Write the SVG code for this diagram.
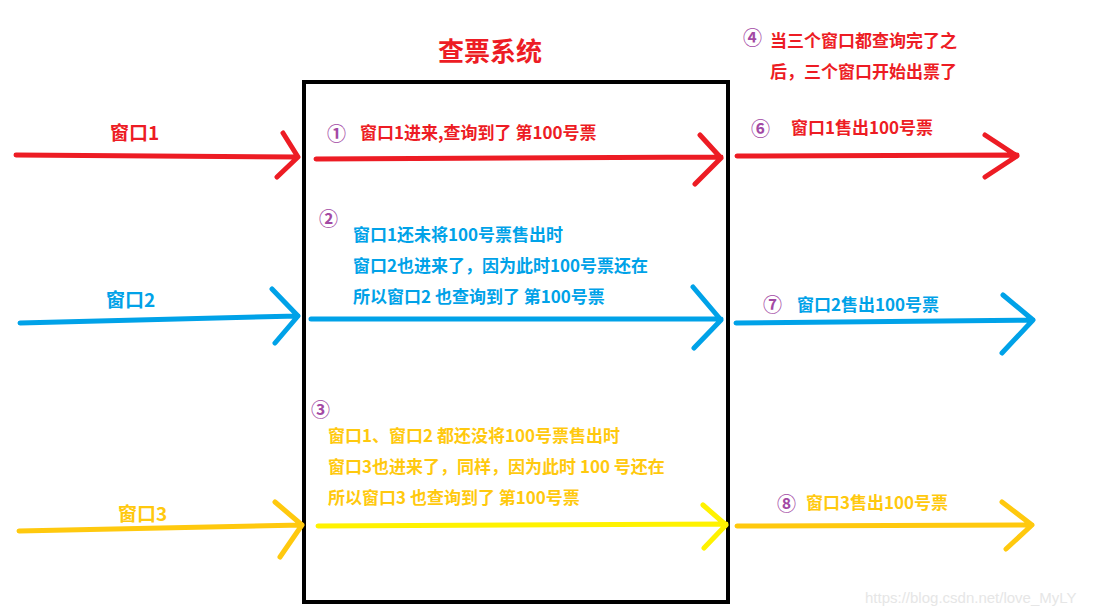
<svg xmlns="http://www.w3.org/2000/svg" width="1100" height="615" viewBox="0 0 1100 615">
<style>
text{font-family:"Noto Sans CJK SC","Liberation Sans",sans-serif;font-weight:bold}
.t{font-size:17px}
.lb{font-size:19px}
.n{font-size:19px;fill:#A349A4;font-weight:bold}
.red{fill:#ED1C24}.blue{fill:#00A2E8}.yel{fill:#FFC90E}
.a{fill:none;stroke-width:5;stroke-linecap:round;stroke-linejoin:round}
.sr{stroke:#ED1C24}.sb{stroke:#00A2E8}.sy{stroke:#FFC90E}.sy2{stroke:#FFF200}
</style>
<rect width="1100" height="615" fill="#fff"/>
<g id="system">
<rect x="304" y="82" width="424" height="520" fill="none" stroke="#000" stroke-width="4"/>
<text x="490" y="61" text-anchor="middle" class="red" style="font-size:26px">查票系统</text>
</g>
<g id="connectors">
<path class="a sr" d="M16,155 L298,157 M283,133 L298,157 L277,177"/>
<path class="a sr" d="M316,159 L721,157 M700,135 L721,158 L695,184"/>
<path class="a sr" d="M737,156 L1017,155 M985,135 L1017,156 L985,177"/>
<path class="a sb" d="M20,323 L298,316 M272,289 L298,316 L275,343"/>
<path class="a sb" d="M311,319 L721,319 M693,287 L721,320 L694,348"/>
<path class="a sb" d="M736,323 L1033,320 M1003,295 L1033,320 L1002,353"/>
<path class="a sy" d="M19,531 L302,525 M275,502 L302,525 L280,557"/>
<path class="a sy2" d="M318,526 L726,524 M703,505 L726,525 L704,548"/>
<path class="a sy" d="M737,526 L1032,525 M1002,502 L1032,525 L1006,549"/>
</g>
<g id="window1">
<text x="110" y="140" class="lb red">窗口1</text>
</g>
<g id="window2">
<text x="106" y="307" class="lb blue">窗口2</text>
</g>
<g id="window3">
<text x="118" y="521" class="lb yel">窗口3</text>
</g>
<g id="step1">
<text x="327" y="141" class="n">①</text>
<text x="360" y="139" class="t red">窗口1进来,查询到了 第100号票</text>
</g>
<g id="step2">
<text x="319" y="226" class="n">②</text>
<text x="353" y="241" class="t blue">窗口1还未将100号票售出时</text>
<text x="353" y="272" class="t blue">窗口2也进来了，因为此时100号票还在</text>
<text x="353" y="303" class="t blue">所以窗口2 也查询到了 第100号票</text>
</g>
<g id="step3">
<text x="311" y="417" class="n">③</text>
<text x="328" y="442" class="t yel">窗口1、窗口2 都还没将100号票售出时</text>
<text x="328" y="473" class="t yel">窗口3也进来了，同样，因为此时 100 号还在</text>
<text x="328" y="504" class="t yel">所以窗口3 也查询到了 第100号票</text>
</g>
<g id="step4">
<text x="743" y="45" class="n">④</text>
<text x="770" y="47" class="t red">当三个窗口都查询完了之</text>
<text x="770" y="78" class="t red">后，三个窗口开始出票了</text>
</g>
<g id="step6">
<text x="751" y="136" class="n">⑥</text>
<text x="791" y="134" class="t red">窗口1售出100号票</text>
</g>
<g id="step7">
<text x="763" y="312" class="n">⑦</text>
<text x="797" y="311" class="t blue">窗口2售出100号票</text>
</g>
<g id="step8">
<text x="777" y="511" class="n">⑧</text>
<text x="806" y="509" class="t yel">窗口3售出100号票</text>
</g>
<text x="865" y="603" style="font-family:'Liberation Sans',sans-serif;font-weight:normal;font-size:15px;fill:#E6E6E6">https://blog.csdn.net/love_MyLY</text>
</svg>
